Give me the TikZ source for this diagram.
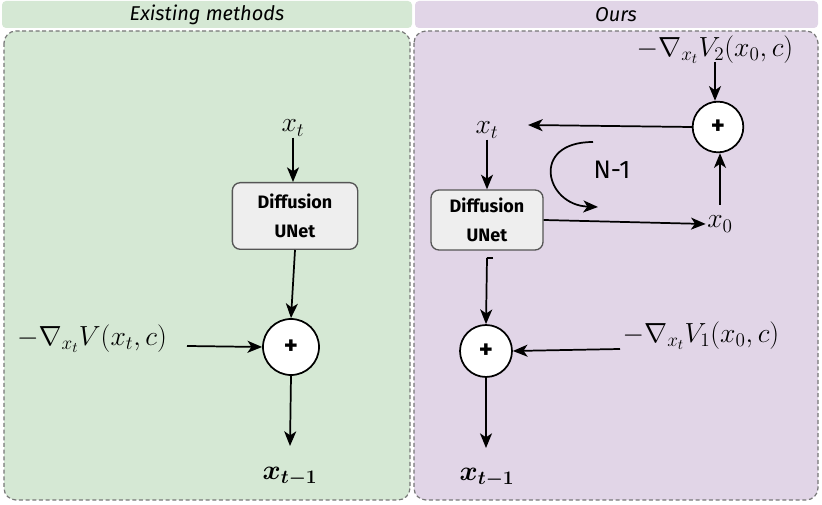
\documentclass[tikz,border=0pt]{standalone}
\usepackage{fontspec}
\usetikzlibrary{arrows.meta}
\newfontfamily\handfont{Fira Sans}
\definecolor{gfill}{HTML}{D5E8D4}
\definecolor{pfill}{HTML}{E1D5E7}
\definecolor{boxfill}{HTML}{EEEEEE}
\definecolor{boxline}{HTML}{555555}
\definecolor{dashline}{HTML}{777777}
\begin{document}
\begin{tikzpicture}[x=0.75pt,y=-0.75pt,
  header/.style={draw=none,rounded corners=3pt},
  panel/.style={draw=dashline,dash pattern=on 3pt off 2pt,line width=0.9pt,rounded corners=9pt},
  unet/.style={draw=boxline,fill=boxfill,line width=1pt,rounded corners=6pt,minimum width=#1,align=center,font=\handfont\bfseries\fontsize{13.5}{22}\selectfont,inner sep=0pt},
  sumnode/.style={circle,draw=black,fill=white,line width=1.3pt,minimum size=#1,inner sep=0pt,font=\handfont\bfseries\fontsize{20}{20}\selectfont},
  lbl/.style={inner sep=1pt,font=\fontsize{22}{26}\selectfont},
  blbl/.style={inner sep=1pt,font=\fontsize{21}{25}\selectfont},
  bxlbl/.style={inner sep=1pt,font=\fontsize{19.5}{24}\selectfont\boldmath},
  arr/.style={line width=1.3pt,-{Stealth[length=11pt,width=9pt,inset=3pt]}},
  ln/.style={line width=1.3pt},
  title/.style={font=\handfont\itshape\fontsize{15}{18}\selectfont}]
\useasboundingbox (0,0) rectangle (822,505);
% headers
\fill[gfill,header] (2,1) rectangle (412,28);
\fill[pfill,header] (415,1) rectangle (818,28);
\node[title] (h1) at (207,15) {Existing methods};
\node[title] (h2) at (616,15) {Ours};
% panels
\draw[panel,fill=gfill] (4,31) rectangle (410,500);
\draw[panel,fill=pfill] (414,31) rectangle (818,500);
% ---------- left ----------
\node[lbl] (lxt) at (293,128) {$x_t$};
\node[unet=94pt,minimum height=50pt] (lu) at (295,216) {Diffusion\\UNet};
\node[sumnode=42pt] (ls) at (291,347) {+};
\node[blbl] (lv) at (92,339) {$-\nabla_{x_t}V(x_t,c)$};
\node[bxlbl] (lxo) at (290,477) {$x_{t-1}$};
\coordinate (lvend) at (187,346);
\coordinate (lxoe) at (290,446);
\draw[arr] (lxt.south) -- (lu.north -| lxt);
\draw[arr] (lu.south) -- (ls.north);
\draw[arr] (lvend) -- (ls.west);
\draw[arr] (ls.south) -- (lxoe);
% ---------- right ----------
\node[lbl] (rxt) at (487,130) {$x_t$};
\node[unet=84pt,minimum height=45pt] (ru) at (487,220) {Diffusion\\UNet};
\node[lbl] (rx0) at (720,224) {$x_0$};
\node[sumnode=38pt] (rs2) at (718,127) {+};
\node[sumnode=39pt] (rs1) at (486,351) {+};
\node[lbl] (rv2) at (715,50) {$-\nabla_{x_t}V_2(x_0,c)$};
\node[lbl] (rv1) at (701,336) {$-\nabla_{x_t}V_1(x_0,c)$};
\node[bxlbl] (rxo) at (487,478) {$x_{t-1}$};
\node[font=\handfont\fontsize{19}{22}\selectfont] (nm) at (612,170) {N-1};
\coordinate (v2s) at (715,62);
\coordinate (v1s) at (620,349);
\coordinate (x0s) at (720,205);
\coordinate (lpe) at (528,125);
\coordinate (cs) at (593,142);
\coordinate (ce) at (598,207);
\coordinate (us) at (487,258);
\coordinate (ut) at (493,258);
\coordinate (rxoe) at (486,448);
\draw[arr] (rxt.south) -- (ru.north);
\draw[arr] (ru.east) -- (rx0.west);
\draw[arr] (x0s) -- (rs2.south -| x0s);
\draw[arr] (v2s) -- (rs2.north -| v2s);
\draw[arr] (rs2.west) -- (lpe);
\draw[arr] (cs) .. controls (530,142) and (545,205) .. (ce);
\draw[ln] (ut) -- (us);
\draw[arr] (us) -- (rs1.north);
\draw[arr] (v1s) -- (rs1.east);
\draw[arr] (rs1.south) -- (rxoe);
\end{tikzpicture}
\end{document}
